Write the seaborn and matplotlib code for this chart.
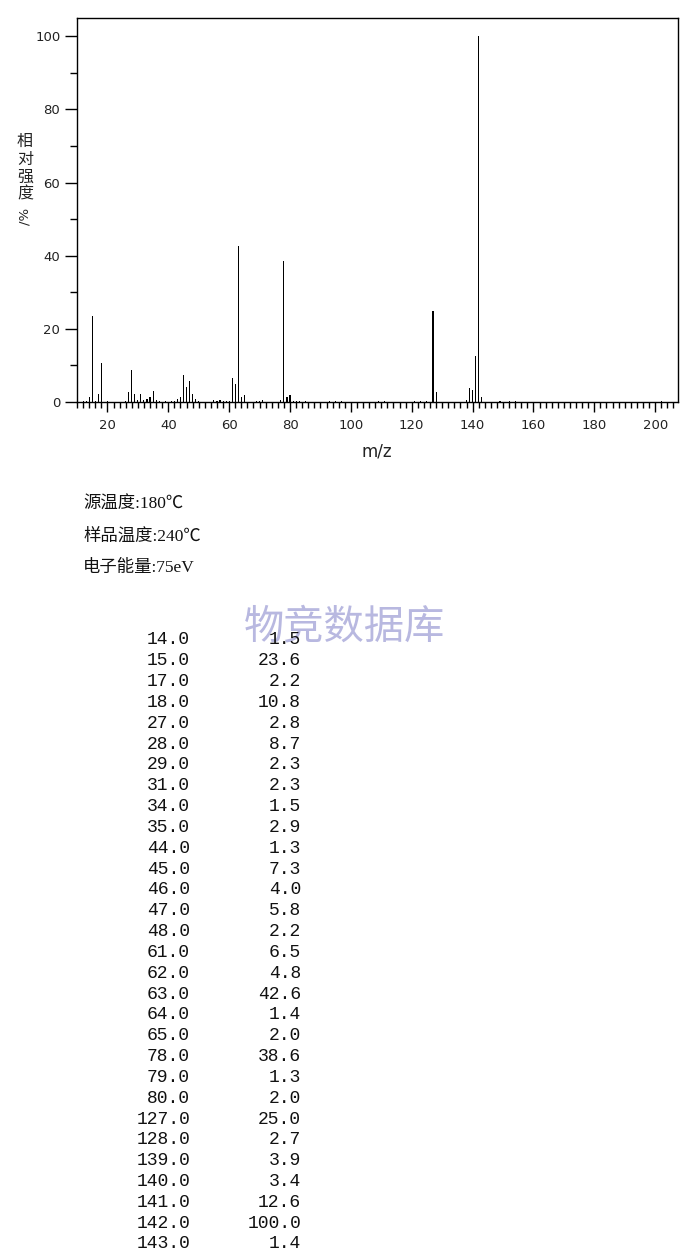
import pandas as pd
import matplotlib
matplotlib.use('Agg')
import matplotlib.pyplot as plt
from matplotlib.ticker import MultipleLocator
import seaborn as sns

# peaks listed in the table under the spectrum
mz = [14, 15, 17, 18, 27, 28, 29, 31, 34, 35, 44, 45, 46, 47, 48, 61, 62, 63, 64, 65,
      78, 79, 80, 127, 128, 139, 140, 141, 142, 143]
intensity = [1.5, 23.6, 2.2, 10.8, 2.8, 8.7, 2.3, 2.3, 1.5, 2.9, 1.3, 7.3, 4.0, 5.8, 2.2,
             6.5, 4.8, 42.6, 1.4, 2.0, 38.6, 1.3, 2.0, 25.0, 2.7, 3.9, 3.4, 12.6, 100.0, 1.4]

# small peaks only visible in the spectrum
mz_small = [12, 13, 16, 20, 26, 30, 32, 33, 36, 37, 39, 41, 42, 43, 49, 50, 55, 56, 57, 58,
            59, 60, 69, 70, 71, 77, 81, 82, 83, 85, 93, 95, 97, 109, 111, 121, 123, 125,
            138, 149, 152, 154, 202]
int_small = [0.4, 0.4, 0.4, 0.3, 0.4, 0.6, 0.6, 0.9, 0.5, 0.3, 0.3, 0.3, 0.4, 0.7, 0.8, 0.3,
             0.5, 0.4, 0.6, 0.4, 0.4, 0.4, 0.3, 0.4, 0.6, 0.5, 0.4, 0.3, 0.3, 0.3, 0.3, 0.3,
             0.3, 0.3, 0.4, 0.3, 0.3, 0.4, 0.5, 0.3, 0.3, 0.3, 0.4]

conditions = ['源温度:180℃', '样品温度:240℃', '电子能量:75eV']

spec = pd.DataFrame({'mz': mz + mz_small, 'rel': intensity + int_small}).sort_values('mz')

sns.set_style('ticks')
plt.rcParams['font.family'] = ['DejaVu Sans', 'Noto Sans CJK SC']

W, H = 687, 1251
fig = plt.figure(figsize=(W / 100, H / 100), dpi=100)


def fx(x):
    return x / W


def fy(y):
    return 1 - y / H


ax = fig.add_axes([fx(77), fy(402), fx(678) - fx(77), fy(18) - fy(402)])
sns.barplot(data=spec, x='mz', y='rel', native_scale=True, width=0.36, color='black',
            linewidth=0, errorbar=None, ax=ax, saturation=1, antialiased=False)

ax.set_xlim(10, 207.5)
ax.set_ylim(0, 105)
ax.xaxis.set_major_locator(MultipleLocator(20))
ax.xaxis.set_minor_locator(MultipleLocator(2))
ax.yaxis.set_major_locator(MultipleLocator(20))
ax.yaxis.set_minor_locator(MultipleLocator(10))
ax.tick_params(axis='x', which='major', length=7, width=1, color='black', labelsize=9.5,
               labelcolor='#222222', pad=5)
ax.tick_params(axis='x', which='minor', length=4, width=1, color='black')
ax.tick_params(axis='y', which='major', length=9, width=1, color='black', labelsize=9.5,
               labelcolor='#222222', pad=3)
ax.tick_params(axis='y', which='minor', length=5, width=1, color='black')
for s in ax.spines.values():
    s.set_visible(True)
    s.set_color('black')
    s.set_linewidth(1)
ax.set_xlabel('')
ax.set_ylabel('')

fig.text(fx(377), fy(451), 'm/z', ha='center', va='center', fontsize=12, color='#222222')
fig.text(fx(25), fy(168), '相\n对\n强\n度', ha='center', va='center', fontsize=11.5,
         color='#222222', linespacing=1.05, family=['Noto Sans CJK SC'])
fig.text(fx(25), fy(216), '/%', ha='center', va='center', fontsize=9.5, rotation=90,
         color='#222222')

for i, line in enumerate(conditions):
    fig.text(fx(83), fy(505 + i * 31.5), line, ha='left', va='center', fontsize=12.5,
             color='#111111', family=['Liberation Serif', 'Noto Sans CJK SC'])

fig.text(fx(344), fy(627), '物竞数据库', ha='center', va='center', fontsize=29,
         color='#b8b8e0', family=['Noto Sans CJK SC'])

row_gap = (1244 - 640) / (len(mz) - 1)
for i, (m, v) in enumerate(zip(mz, intensity)):
    y = fy(640 + i * row_gap)
    fig.text(fx(190), y, f'{m:.1f}', ha='right', va='center', fontsize=13,
             family=['Liberation Mono'], color='#111111')
    fig.text(fx(301), y, f'{v:.1f}', ha='right', va='center', fontsize=13,
             family=['Liberation Mono'], color='#111111')

fig.savefig('out.png', dpi=100)
